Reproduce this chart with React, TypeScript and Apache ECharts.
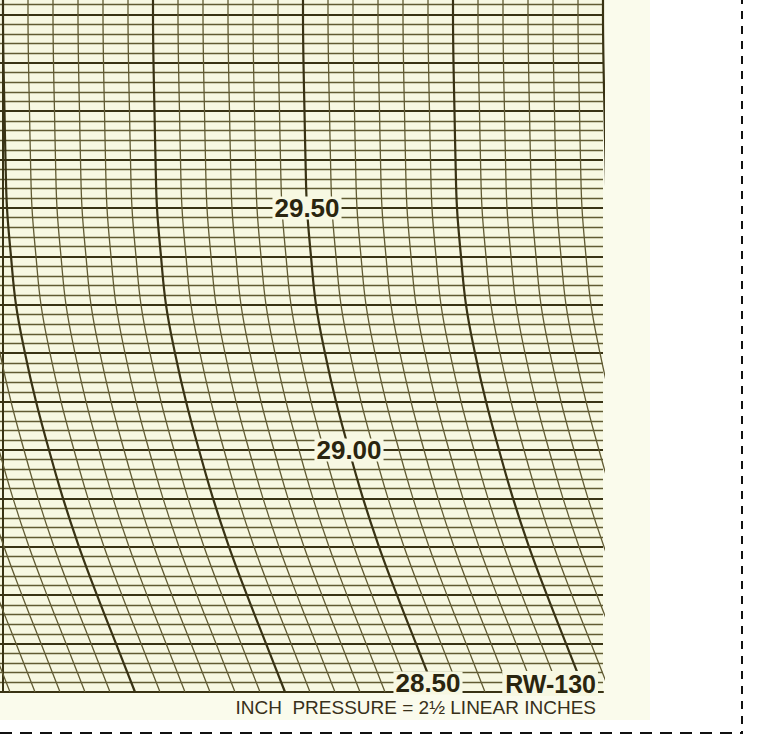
import React, { useEffect, useRef } from "react";
import * as echarts from "echarts";

// pressure range shown on the chart (inches of mercury)
const pressureMin = 28.5;
const pressureMax = 30.0;

// time arcs, in hours; a heavy arc every 12 hours
const timeLines = [
  -12, -10, -8, -6, -4, -2, 0, 2, 4, 6, 8, 10, 12, 14, 16, 18, 20, 22, 24,
  26, 28, 30, 32, 34, 36, 38, 40, 42, 44, 46, 48,
];

// shape of one time arc: how far (hours) it leans right at each pressure
const arcPressures = [30.0, 29.9, 29.8, 29.7, 29.6, 29.5, 29.4, 29.3, 29.2, 29.1, 29.0, 28.9, 28.8, 28.7, 28.6, 28.5];
const arcOffsets = [0, 0, 0.04, 0.12, 0.2, 0.32, 0.64, 1.04, 1.76, 2.64, 3.68, 4.8, 6.08, 7.52, 9.04, 10.56];

// printed pressure labels, sitting on the noon arc
const labelTexts = ["29.50", "29.00", "28.50"];
const labelPressures = [29.5, 29.0, 28.5];
const labelHours = [24, 24, 24];

const PAPER = "#fafbec";
const CELL = "#f7f8e2";
const THIN = "#615b33";
const BOLD = "#393314";
const INK = "#2a250f";

// the scan is cropped: the chart sheet starts 34px above the visible page
const SHIFT = 34;

function offsetAt(p: number) {
  const i = arcPressures.indexOf(p);
  return i >= 0 ? arcOffsets[i] : 0;
}

export default function App() {
  const chartRef = useRef<HTMLDivElement>(null);

  useEffect(() => {
    const chart = echarts.init(chartRef.current!, null, { renderer: "svg" });

    const arcSeries = timeLines.map((h) => ({
      type: "line",
      data: arcPressures.map((p, i) => [h + arcOffsets[i], p]),
      smooth: 0.4,
      showSymbol: false,
      silent: true,
      clip: true,
      lineStyle: {
        color: h % 12 === 0 ? BOLD : THIN,
        width: h % 12 === 0 ? 2.2 : 1.3,
      },
      z: 2,
    }));

    const labelSeries = {
      type: "scatter",
      symbolSize: 0,
      silent: true,
      clip: false,
      z: 5,
      itemStyle: { opacity: 1 },
      data: labelTexts.map((t, i) => ({
        name: t,
        value: [labelHours[i] + offsetAt(labelPressures[i]), labelPressures[i]],
        label:
          i === labelTexts.length - 1
            ? { offset: [-7, -9] }
            : { offset: [0, 0] },
      })),
      label: {
        show: true,
        position: "inside",
        formatter: (d: any) => d.name,
        fontFamily: "Liberation Sans",
        fontWeight: "bold",
        fontSize: 26,
        color: INK,
        opacity: 1,
        textBorderWidth: 0,
        backgroundColor: CELL,
        padding: [0, 2, -1, 2],
        lineHeight: 24,
      },
    };

    chart.setOption({
      animation: false,
      backgroundColor: "#ffffff",
      grid: {
        show: true,
        left: 0,
        right: 160,
        top: 0,
        bottom: 55,
        backgroundColor: CELL,
        borderWidth: 0,
      },
      xAxis: {
        type: "value",
        min: -0.24,
        max: 48,
        axisLine: { show: true, onZero: false, lineStyle: { color: BOLD, width: 2 } },
        axisTick: { show: false },
        axisLabel: { show: false },
        splitLine: { show: false },
      },
      yAxis: {
        type: "value",
        position: "right",
        min: pressureMin,
        max: pressureMax,
        interval: 0.1,
        axisLine: { show: true, lineStyle: { color: BOLD, width: 2 } },
        axisTick: { show: false },
        axisLabel: { show: false },
        splitLine: { show: true, lineStyle: { color: BOLD, width: 2 } },
        minorTick: { show: false, splitNumber: 5 },
        minorSplitLine: { show: true, lineStyle: { color: THIN, width: 1.3 } },
      },
      graphic: [
        {
          type: "rect",
          z: -10,
          shape: { x: 0, y: 0, width: 650, height: 720 + SHIFT },
          style: { fill: PAPER },
        },
        {
          type: "text",
          z: 10,
          style: {
            text: "RW-130",
            x: 598,
            y: 696 + SHIFT,
            textAlign: "right",
            textVerticalAlign: "bottom",
            font: "bold 25px 'Liberation Sans'",
            fill: INK,
            backgroundColor: CELL,
            padding: [0, 2, 0, 3],
          },
        },
        {
          type: "text",
          z: 10,
          style: {
            text: "INCH  PRESSURE = 2\u00bd LINEAR INCHES",
            x: 596,
            y: 707 + SHIFT,
            textAlign: "right",
            textVerticalAlign: "middle",
            font: "19px 'Liberation Sans'",
            fill: "#383019",
          },
        },
        {
          type: "line",
          z: 10,
          shape: { x1: 742, y1: 0, x2: 742, y2: 733 + SHIFT },
          style: { stroke: "#111111", lineWidth: 2, lineDash: [8, 7] },
        },
        {
          type: "line",
          z: 10,
          shape: { x1: 0, y1: 733 + SHIFT, x2: 743, y2: 733 + SHIFT },
          style: { stroke: "#111111", lineWidth: 2, lineDash: [12, 8] },
        },
      ],
      series: [...arcSeries, labelSeries],
    });

    return () => {
      chart.dispose();
    };
  }, []);

  return (
    <div
      ref={chartRef}
      style={{
        position: "fixed",
        left: 0,
        top: -SHIFT + "px",
        width: "763px",
        height: 747 + SHIFT + "px",
      }}
    />
  );
}
